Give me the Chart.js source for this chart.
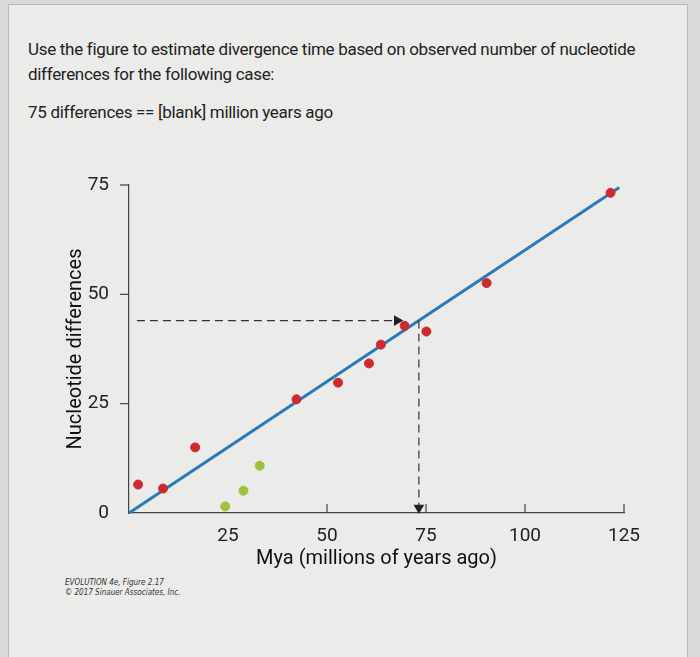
<!DOCTYPE html>
<html>
<head>
<meta charset="utf-8">
<script src="https://cdn.jsdelivr.net/npm/chart.js@4/dist/chart.umd.min.js"></script>
<style>
  body { margin: 0; width: 700px; height: 657px; background: #d9d9d7; font-family: Roboto, "Liberation Sans", sans-serif; overflow: hidden; }
  .panel { position: absolute; left: 8px; top: 4px; width: 678px; height: 660px; background: #ebebe9; border: 1px solid #b8b8b6; }
  .q { position: absolute; left: 28px; color: #222; font-size: 17px; letter-spacing: -0.3px; }
  .credit { position: absolute; left: 65px; top: 578px; font-size: 8px; font-style: italic; color: #333; line-height: 10px; font-family: "Liberation Sans Narrow", "DejaVu Sans Condensed", sans-serif; }
  canvas { position: absolute; left: 0; top: 0; }
</style>
</head>
<body>
<div class="panel"></div>
<div class="q" style="top:39px">Use the figure to estimate divergence time based on observed number of nucleotide</div>
<div class="q" style="top:64px">differences for the following case:</div>
<div class="q" style="top:102px">75 differences == [blank] million years ago</div>
<div class="credit">EVOLUTION 4e, Figure 2.17<br>© 2017 Sinauer Associates, Inc.</div>
<canvas id="chart" width="700" height="657"></canvas>
<script>
// datos
const redX = [2.3, 8.6, 16.7, 42.3, 52.8, 60.6, 63.6, 69.6, 75.1, 90.3, 121.6];
const redY = [6.5, 5.6, 15, 26, 29.8, 34.2, 38.5, 42.8, 41.5, 52.6, 73.2];
const greenX = [24.3, 28.9, 33];
const greenY = [1.5, 5.1, 10.8];
const fitX = [0, 123.8];
const fitY = [0, 74.4];
const guideH = { x: [2, 67.7], y: [44, 44] };
const guideV = { x: [73.2, 73.2], y: [44, 1.2] };
const xTicks = [25, 50, 75, 100, 125];
const yTicks = [0, 25, 50, 75];

const toPts = (xs, ys) => xs.map((x, i) => ({ x: x, y: ys[i] }));

// marcas de los ejes hacia dentro / izquierda
const tickMarks = {
  id: 'tickMarks',
  afterDraw(chart) {
    const c = chart.ctx, xs = chart.scales.x, ys = chart.scales.y;
    c.save();
    c.strokeStyle = '#444';
    c.lineWidth = 1.2;
    [50, 75, 100, 125].forEach(v => {
      const px = xs.getPixelForValue(v);
      c.beginPath(); c.moveTo(px, ys.bottom); c.lineTo(px, ys.bottom - 9); c.stroke();
    });
    [25, 50, 75].forEach(v => {
      const py = ys.getPixelForValue(v);
      c.beginPath(); c.moveTo(xs.left, py); c.lineTo(xs.left - 9, py); c.stroke();
    });
    c.restore();
  }
};

new Chart(document.getElementById('chart'), {
  type: 'scatter',
  data: {
    datasets: [
      { data: toPts(fitX, fitY), showLine: true, borderColor: '#2a7ab8', borderWidth: 3, pointRadius: 0, order: 3 },
      { data: toPts(guideH.x, guideH.y), showLine: true, borderColor: '#333', borderWidth: 1.2, borderDash: [8, 5],
        pointRadius: [0, 5], pointStyle: 'triangle', rotation: 90, backgroundColor: '#222', pointBorderColor: '#222', order: 2 },
      { data: toPts(guideV.x, guideV.y), showLine: true, borderColor: '#333', borderWidth: 1.2, borderDash: [8, 5],
        pointRadius: [0, 5], pointStyle: 'triangle', rotation: 180, backgroundColor: '#222', pointBorderColor: '#222', order: 2 },
      { data: toPts(redX, redY), backgroundColor: '#cc2a2e', borderColor: '#cc2a2e', pointRadius: 4.5, order: 1 },
      { data: toPts(greenX, greenY), backgroundColor: '#9fc23a', borderColor: '#9fc23a', pointRadius: 4.5, order: 1 }
    ]
  },
  options: {
    responsive: false,
    animation: false,
    clip: false,
    layout: { padding: { left: 60, top: 185, right: 76, bottom: 82 } },
    plugins: { legend: { display: false }, tooltip: { enabled: false } },
    scales: {
      x: {
        min: 0, max: 125,
        afterBuildTicks: s => { s.ticks = xTicks.map(v => ({ value: v })); },
        afterFit: s => { s.height = 62; },
        grid: { display: false },
        border: { color: '#444', width: 1.2 },
        ticks: { color: '#222', font: { size: 19, family: 'Roboto' }, padding: 4, autoSkip: false, maxRotation: 0 },
        title: { display: true, text: 'Mya (millions of years ago)', color: '#111', font: { size: 20, family: 'Roboto' }, padding: { top: 2 } }
      },
      y: {
        min: 0, max: 75,
        afterBuildTicks: s => { s.ticks = yTicks.map(v => ({ value: v })); },
        afterFit: s => { s.width = 69; },
        grid: { display: false },
        border: { color: '#444', width: 1.2 },
        ticks: { color: '#222', font: { size: 19, family: 'Roboto' }, padding: 12 },
        title: { display: true, text: 'Nucleotide differences', color: '#111', font: { size: 20, family: 'Roboto' }, padding: { bottom: 0 } }
      }
    }
  },
  plugins: [tickMarks]
});
</script>
</body>
</html>
